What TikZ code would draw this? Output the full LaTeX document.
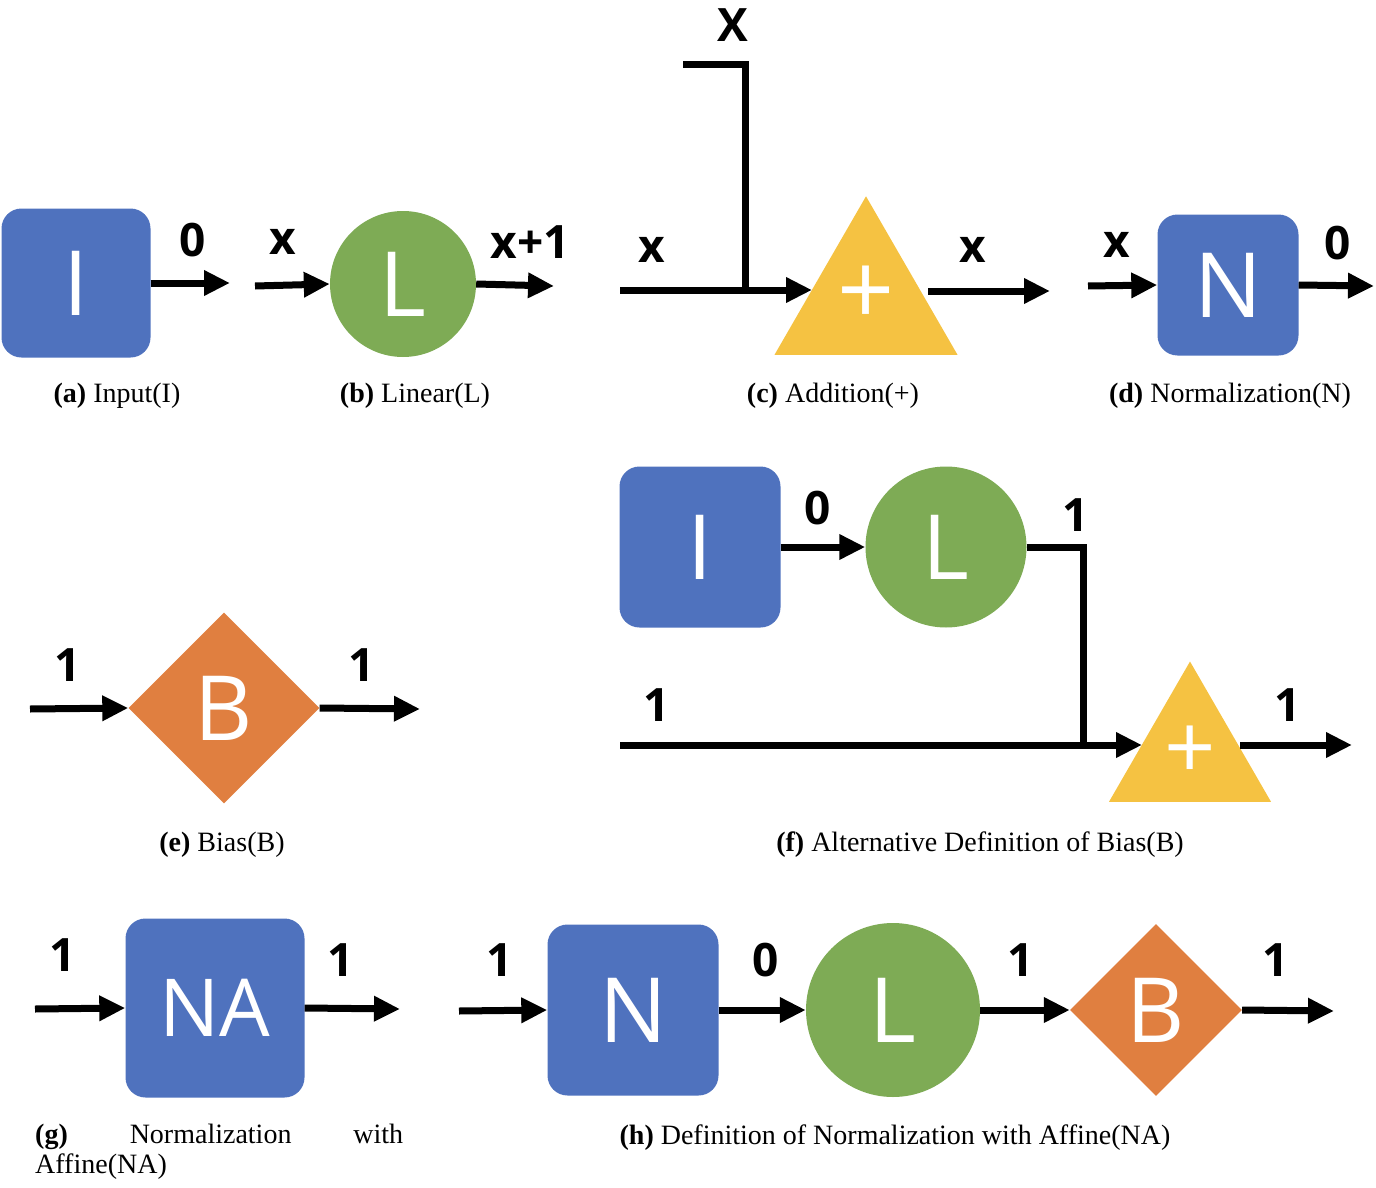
\documentclass[tikz,border=0pt]{standalone}
\usepackage{fontspec}
\setmainfont{Liberation Serif}
\newfontfamily\osans{Open Sans}
\usetikzlibrary{shapes.geometric,arrows.meta}
\definecolor{cblue}{HTML}{4F72BE}
\definecolor{cgreen}{HTML}{7EAB55}
\definecolor{cyel}{HTML}{F5C242}
\definecolor{corg}{HTML}{E07F40}
\begin{document}
\begin{tikzpicture}[x=1pt,y=-1pt,
 box/.style={fill=cblue,rounded corners=20pt,minimum width=#1,minimum height=#1,inner sep=0,text=white,font=\osans\fontsize{90}{90}\selectfont},
 circ/.style={circle,fill=cgreen,minimum size=#1,inner sep=0,text=white,font=\osans\fontsize{90}{90}\selectfont},
 dia/.style={diamond,fill=corg,minimum width=#1,minimum height=#1,inner sep=0,text=white,font=\osans\fontsize{90}{90}\selectfont},
 tri/.style={isosceles triangle,isosceles triangle apex angle=60,shape border rotate=90,fill=cyel,minimum height=#1,inner sep=0,anchor=south},
 ar/.style={line width=7pt,-{Triangle[length=26pt,width=24pt]}},
 ln/.style={line width=7pt},
 lab/.style={font=\osans\bfseries\fontsize{46}{46}\selectfont},
 capt/.style={font=\fontsize{28}{30}\selectfont}]
\useasboundingbox (0,0) rectangle (1376,1188);
% (a)
\node[box=149pt] (aI) at (76,283) {I};
\coordinate (aO) at (230,283);
\draw[ar] (aI.east) -- (aO);
\node[lab] (al) at (193,240) {0};
\node[capt] (ac) at (117,396) {\textbf{(a)} Input(I)};
% (b)
\node[circ=146pt] (bL) at (403,284) {L};
\coordinate (bi) at (255,286); \coordinate (bo) at (554,286);
\draw[ar] (bi) -- (bL.west);
\draw[ar] (bL.east) -- (bo);
\node[lab] (bl1) at (283,242) {x};
\node[lab] (bl2) at (530,242) {x+1};
\node[capt] (bc) at (415,396) {\textbf{(b)} Linear(L)};
% (c)
\node[tri=157pt,minimum width=183pt] (cT) at (866,355) {};
\node[text=white,font=\osans\fontsize{100}{100}\selectfont] (cp) at (866,296) {+};
\coordinate (ci) at (620,290); \coordinate (cin) at (812,290);
\coordinate (cj) at (745,290); \coordinate (cu) at (745,65); \coordinate (cl) at (683,65);
\draw[ar] (ci) -- (cin);
\draw[ln] (cl) -- (cu) -- (cj);
\coordinate (co1) at (928,291); \coordinate (co2) at (1050,291);
\draw[ar] (co1) -- (co2);
\node[lab] (c1) at (733,25) {X};
\node[lab] (c2) at (652,250) {x};
\node[lab] (c3) at (973,250) {x};
\node[capt] (cc) at (833,396) {\textbf{(c)} Addition(+)};
% (d)
\node[box=141pt] (dN) at (1228,285) {N};
\coordinate (di) at (1088,286); \coordinate (do) at (1374,286);
\draw[ar] (di) -- (dN.west);
\draw[ar] (dN.east) -- (do);
\node[lab] (d1) at (1117,245) {x};
\node[lab] (d2) at (1338,243) {0};
\node[capt] (dc) at (1230,396) {\textbf{(d)} Normalization(N)};
% (e)
\node[dia=191pt] (eB) at (224,708) {B};
\coordinate (ei) at (30,709); \coordinate (eo) at (420,709);
\draw[ar] (ei) -- (eB.west);
\draw[ar] (eB.east) -- (eo);
\node[lab] (e1) at (68,665) {1};
\node[lab] (e2) at (362,665) {1};
\node[capt] (ec) at (222,845) {\textbf{(e)} Bias(B)};
% (f)
\node[box=161pt] (fI) at (700,547) {I};
\node[circ=161pt] (fL) at (946,547) {L};
\draw[ar] (fI.east) -- (fL.west);
\coordinate (fc) at (1083,547); \coordinate (fd) at (1083,745);
\draw[ln] (fL.east) -- (fc) -- (fd);
\node[tri=139pt,minimum width=162pt] (fT) at (1190,802) {};
\node[text=white,font=\osans\fontsize{90}{90}\selectfont] (fp) at (1190,753) {+};
\coordinate (fi) at (620,745); \coordinate (fin) at (1142,745);
\draw[ar] (fi) -- (fin);
\coordinate (fo1) at (1240,745); \coordinate (fo2) at (1352,745);
\draw[ar] (fo1) -- (fo2);
\node[lab] (f1) at (818,508) {0};
\node[lab] (f2) at (1076,515) {1};
\node[lab] (f3) at (657,705) {1};
\node[lab] (f4) at (1288,705) {1};
\node[capt] (fcap) at (980,845) {\textbf{(f)} Alternative Definition of Bias(B)};
% (g)
\node[box=179pt,font=\osans\fontsize{80}{80}\selectfont] (gN) at (215,1008) {NA};
\coordinate (gi) at (35,1009); \coordinate (go) at (400,1009);
\draw[ar] (gi) -- (gN.west);
\draw[ar] (gN.east) -- (go);
\node[lab] (g1) at (63,955) {1};
\node[lab] (g2) at (341,960) {1};
\node[capt,text width=368pt,align=justify,anchor=north west,inner sep=0] (gc) at (35,1124) {\textbf{(g)} \hfill Normalization \hfill with\\Affine(NA)};
% (h)
\node[box=171pt] (hN) at (633,1010) {N};
\node[circ=174pt] (hL) at (893,1010) {L};
\node[dia=172pt] (hB) at (1156,1010) {B};
\coordinate (hi) at (459,1011); \coordinate (ho) at (1334,1011);
\draw[ar] (hi) -- (hN.west);
\draw[ar] (hN.east) -- (hL.west);
\draw[ar] (hL.east) -- (hB.west);
\draw[ar] (hB.east) -- (ho);
\node[lab] (h1) at (500,960) {1};
\node[lab] (h2) at (766,960) {0};
\node[lab] (h3) at (1021,960) {1};
\node[lab] (h4) at (1276,960) {1};
\node[capt] (hc) at (895,1138) {\textbf{(h)} Definition of Normalization with Affine(NA)};
\end{tikzpicture}
\end{document}
